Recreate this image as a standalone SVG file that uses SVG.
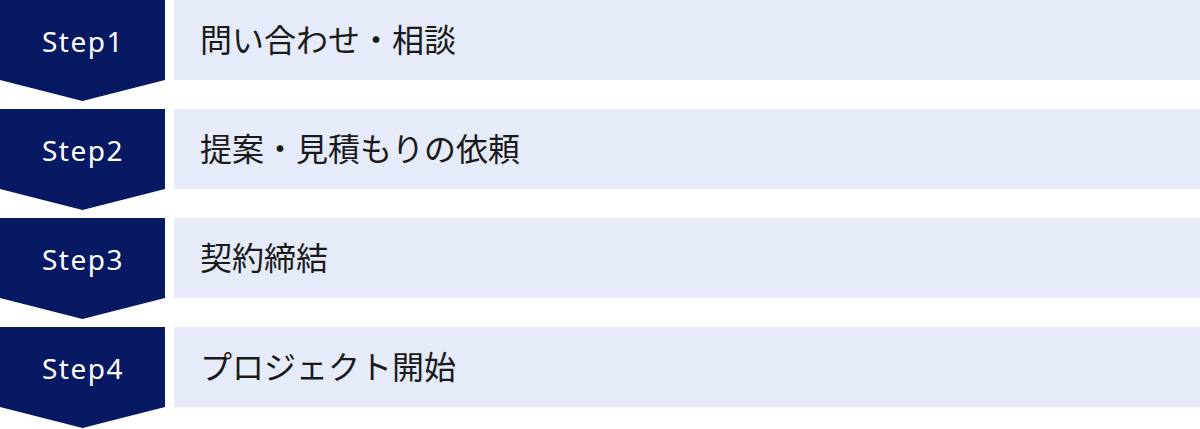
<svg xmlns="http://www.w3.org/2000/svg" width="1200" height="429" viewBox="0 0 1200 429">
  <defs>
    <style>
      .chev { fill: #061962; }
      .bar { fill: #E5EBF8; }
      .step { font-family: "Noto Sans", "Noto Sans CJK JP", sans-serif; font-size: 28px; fill: #ffffff; letter-spacing: 1.5px; text-anchor: middle; }
      .label { font-family: "Noto Sans CJK JP", "Noto Sans", sans-serif; font-size: 32px; fill: #1a1a1a; }
    </style>
    <path id="chevron" d="M0,0 H165 V80 L82.5,101 L0,80 Z"/>
  </defs>
  <rect width="1200" height="429" fill="#ffffff"/>
  <g id="connectors"></g>
  <g id="step1">
    <use href="#chevron" class="chev" x="0" y="0"/>
    <text class="step" x="83" y="52">Step1</text>
    <rect class="bar" x="174" y="0" width="1026" height="80"/>
    <text class="label" x="200" y="52">問い合わせ・相談</text>
  </g>
  <g id="step2">
    <use href="#chevron" class="chev" x="0" y="109"/>
    <text class="step" x="83" y="161">Step2</text>
    <rect class="bar" x="174" y="109" width="1026" height="80"/>
    <text class="label" x="200" y="161">提案・見積もりの依頼</text>
  </g>
  <g id="step3">
    <use href="#chevron" class="chev" x="0" y="218"/>
    <text class="step" x="83" y="270">Step3</text>
    <rect class="bar" x="174" y="218" width="1026" height="80"/>
    <text class="label" x="200" y="270">契約締結</text>
  </g>
  <g id="step4">
    <use href="#chevron" class="chev" x="0" y="327"/>
    <text class="step" x="83" y="379">Step4</text>
    <rect class="bar" x="174" y="327" width="1026" height="80"/>
    <text class="label" x="200" y="379">プロジェクト開始</text>
  </g>
</svg>
